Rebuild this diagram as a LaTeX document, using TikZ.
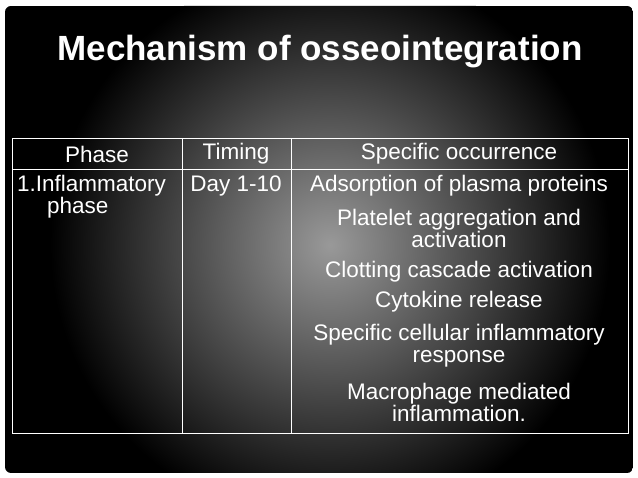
\documentclass[tikz,border=0pt]{standalone}
\usepackage{fontspec}
\setmainfont{Liberation Sans}
\usetikzlibrary{positioning}
\tikzset{
  cell/.style={text=white, inner sep=0pt, font=\fontsize{22.5}{22}\selectfont, align=center},
  rule/.style={white, line width=0.8pt}
}
\begin{document}
\begin{tikzpicture}[x=1pt,y=-1pt]
\useasboundingbox (0,0) rectangle (638,478);
\fill[white] (0,0) rectangle (638,478);
\begin{scope}
\clip[rounded corners=6pt] (5,6) rectangle (633,473);
\fill[black] (5,6) rectangle (633,473);
\shade[inner color=gray!80, outer color=black] (330,245) circle (280);
\end{scope}
% title
\node[text=white, font=\bfseries\fontsize{35}{36}\selectfont] (title) at (320,52) {Mechanism of osseointegration};
% table frame
\draw[rule] (12,138) rectangle (628,433);
\draw[rule] (12,169) -- (628,169);
\draw[rule] (182,138) -- (182,433);
\draw[rule] (291,138) -- (291,433);
% header
\node[cell] (phase) at (97,154) {Phase};
\node[cell] (timing) at (236,154) {Timing};
\node[cell] (occur) at (459,154) {Specific occurrence};
% first column
\node[cell, align=left, anchor=north west] (infl) at (17,175) {1.Inflammatory\\\hspace*{30pt}phase};
\node[cell] (day) at (236,186) {Day 1-10};
% occurrences
\node[cell] (o1) at (459,186) {Adsorption of plasma proteins};
\node[cell] (o2) at (459,228) {Platelet aggregation and\\activation};
\node[cell] (o3) at (459,272) {Clotting cascade activation};
\node[cell] (o4) at (459,302) {Cytokine release};
\node[cell] (o5) at (459,346) {Specific cellular inflammatory\\response};
\node[cell] (o6) at (459,402) {Macrophage mediated\\inflammation.};
\end{tikzpicture}
\end{document}
